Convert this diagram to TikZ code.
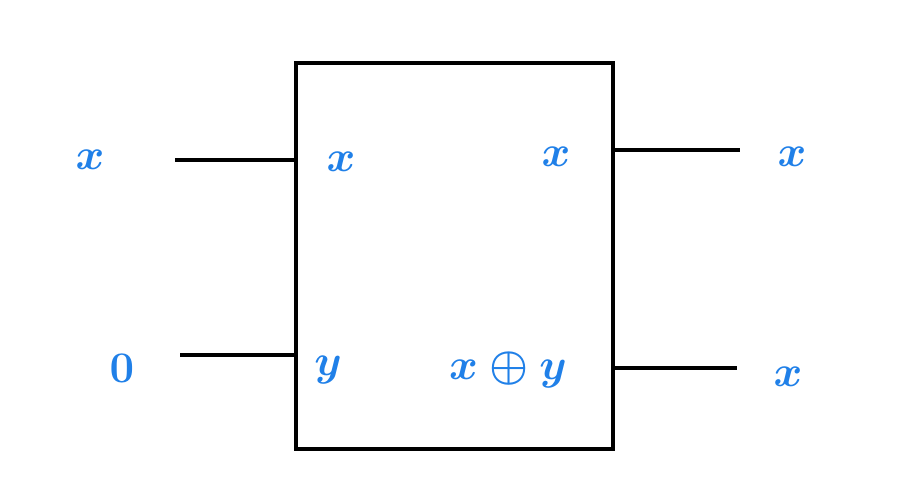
\documentclass[tikz,border=0pt]{standalone}
\usepackage{amsmath}
\usepackage{tikz}

\definecolor{ink}{RGB}{32,128,232}

\begin{document}
\begin{tikzpicture}[
    x=0.02cm, y=-0.02cm,
    lbl/.style={text=ink, inner sep=0pt, font=\fontsize{46}{50}\selectfont\boldmath},
    gate/.style={draw, line width=2.4pt, minimum width=6.34cm, minimum height=7.72cm, inner sep=0pt},
    wire/.style={line width=2.4pt}
  ]
    \useasboundingbox (0,0) rectangle (916,498);

    \node[gate] (box) at (454.5,256) {};

    % inputs
    \node[lbl] (inx) at (90,160) {$x$};
    \node[lbl] (inzero) at (122,368) {$0$};
    \coordinate (ina) at (175,160);
    \coordinate (inb) at (180,355);

    % labels inside the box
    \node[lbl] (px) at (341,162) {$x$};
    \node[lbl] (py) at (328,370) {$y$};
    \node[lbl] (qx) at (556,157) {$x$};
    \node[lbl] (qxy) at (508,370) {$x\oplus y$};

    % outputs
    \coordinate (outa) at (740,150);
    \coordinate (outb) at (737,368);
    \node[lbl] (outx) at (792,157) {$x$};
    \node[lbl] (outy) at (788,377) {$x$};

    \draw[wire] (ina) -- (ina -| box.west);
    \draw[wire] (inb) -- (inb -| box.west);
    \draw[wire] (outa -| box.east) -- (outa);
    \draw[wire] (outb -| box.east) -- (outb);
  \end{tikzpicture}
\end{document}
